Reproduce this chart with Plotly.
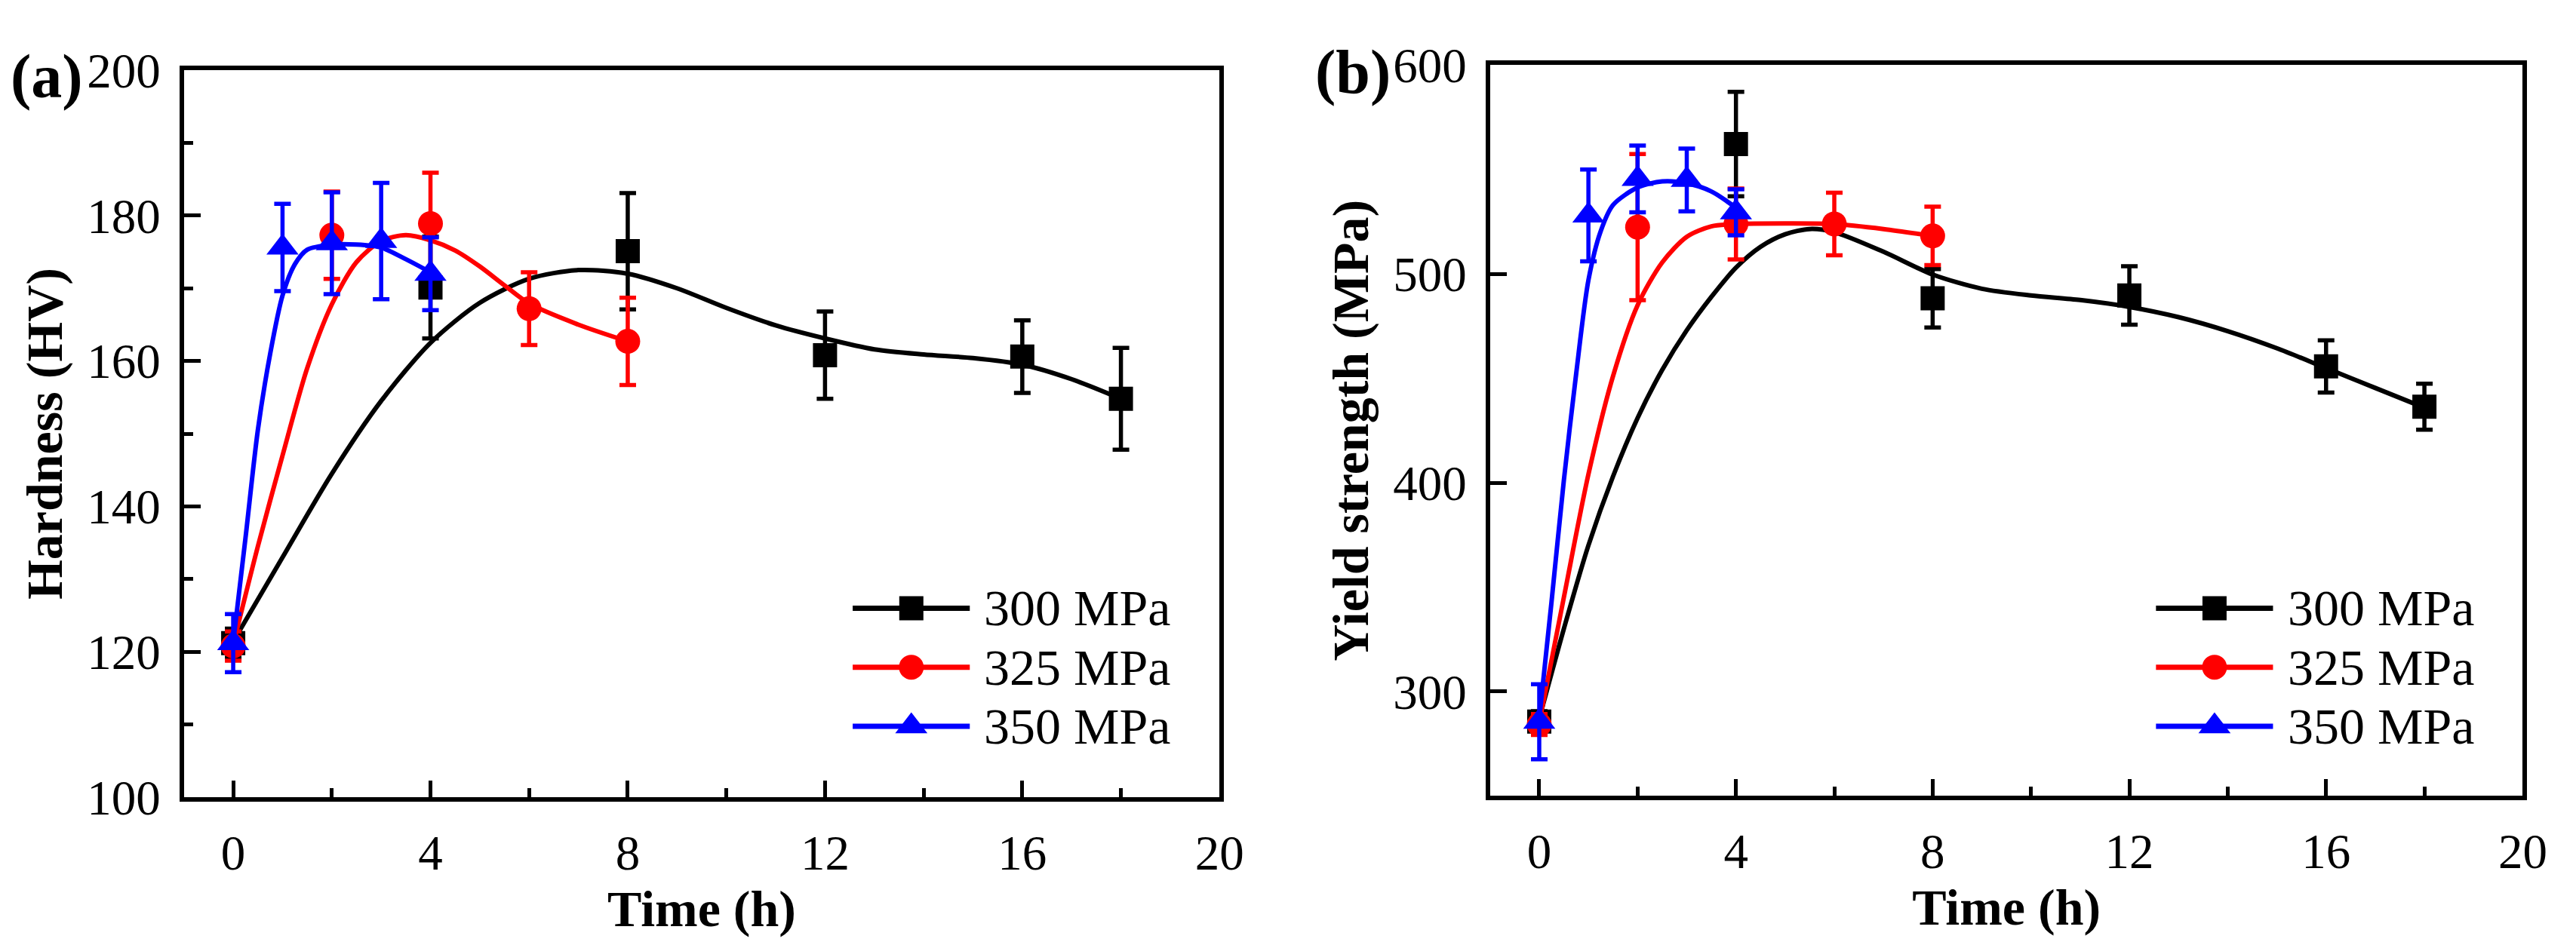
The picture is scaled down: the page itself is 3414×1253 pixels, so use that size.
import plotly.graph_objects as go

FONT = "Liberation Serif"
W, H = 3414, 1253

series_names = ["300 MPa", "325 MPa", "350 MPa"]
series_colors = ["#000000", "#FF0000", "#0000FF"]
series_symbols = ["square", "circle", "triangle-up"]
series_sizes = [32, 33, 37]

# ---- (a) hardness: measured points ----
time_300 = [0, 4, 8, 12, 16, 18]
hv_300 = [121.2, 170.1, 175.1, 160.8, 160.6, 154.8]
hv_300_err = [2, 7, 8, 6, 5, 7]

time_325 = [0, 2, 4, 6, 8]
hv_325 = [120.8, 177.3, 178.9, 167.2, 162.7]
hv_325_err = [2, 6, 7, 5, 6]

time_350 = [0, 1, 2, 3, 4]
hv_350 = [121.2, 175.6, 176.2, 176.5, 172.0]
hv_350_err = [4, 6, 7, 8, 5]

# ---- (a) hardness: smoothed curves ----
fit_t_300 = [0, 1, 2, 3, 4, 5, 6, 7, 8, 9, 10, 11, 12, 13, 14, 15, 16, 17, 18]
fit_hv_300 = [121.4, 133.0, 144.5, 154.5, 162.5, 168.0, 171.3, 172.5, 172.0, 170.0,
              167.3, 164.9, 163.1, 161.6, 160.9, 160.4, 159.5, 157.5, 154.8]

fit_t_325 = [0, 0.5, 1, 1.5, 2, 2.5, 3, 3.5, 4, 4.5, 5, 5.5, 6, 7, 8]
fit_hv_325 = [121.0, 134.5, 147.0, 159.0, 167.8, 173.6, 176.5, 177.3, 176.6, 175.2,
              173.0, 170.4, 167.9, 165.0, 162.7]

fit_t_350 = [0, 0.25, 0.5, 0.75, 1, 1.25, 1.5, 2, 2.5, 3, 3.5, 4]
fit_hv_350 = [121.3, 135.7, 150.5, 161.0, 169.0, 173.3, 175.3, 176.0, 176.0, 175.6,
              174.0, 172.2]

# ---- (b) yield strength: measured points ----
ys_300 = [285.6, 562.2, 488.3, 489.7, 455.7, 436.4]
ys_300_err = [5, 25, 14, 14, 12.5, 11]

ys_325 = [284.2, 522.4, 523.9, 523.9, 518.2]
ys_325_err = [5, 35, 17, 15, 14]

ys_350 = [285.5, 528.0, 545.5, 545.0, 529.5]
ys_350_err = [18, 22, 16, 15, 11]

# ---- (b) yield strength: smoothed curves ----
fit_tb_300 = [0, 0.5, 1, 1.5, 2, 2.5, 3, 3.5, 4, 4.5, 5, 5.5, 6, 7, 8, 9, 10, 11,
              12, 13, 14, 15, 16, 17, 18]
fit_ys_300 = [287, 330, 370, 403, 431, 454, 473, 489, 503, 513, 519, 521.5, 520,
              510.6, 499.7, 492.9, 489.7, 487.5, 484.2, 479.3, 472.6, 464.4, 454.9,
              445.4, 435.9]

fit_tb_325 = [0, 0.5, 1, 1.5, 2, 2.5, 3, 3.5, 4, 5, 6, 7, 8]
fit_ys_325 = [285, 345, 404, 451, 485, 505.5, 517.8, 522.8, 523.9, 524.2, 523.9,
              521.5, 518.2]

fit_tb_350 = [0, 0.25, 0.5, 0.75, 1, 1.25, 1.5, 2, 2.5, 3, 3.5, 4]
fit_ys_350 = [287, 343, 401, 452, 497, 520.5, 533, 541.4, 544.3, 543.4, 539.5,
              531.7]

legend_rows = [0, 1, 2]

panels = [
    # (xaxis, yaxis, points, fits)
    ("x", "y",
     [(time_300, hv_300, hv_300_err), (time_325, hv_325, hv_325_err), (time_350, hv_350, hv_350_err)],
     [(fit_t_300, fit_hv_300), (fit_t_325, fit_hv_325), (fit_t_350, fit_hv_350)]),
    ("x2", "y2",
     [(time_300, ys_300, ys_300_err), (time_325, ys_325, ys_325_err), (time_350, ys_350, ys_350_err)],
     [(fit_tb_300, fit_ys_300), (fit_tb_325, fit_ys_325), (fit_tb_350, fit_ys_350)]),
]

fig = go.Figure()

for xa, ya, points, fits in panels:
    for i in range(3):
        c = series_colors[i]
        fig.add_trace(go.Scatter(
            x=fits[i][0], y=fits[i][1], xaxis=xa, yaxis=ya, mode="lines",
            line=dict(color=c, width=6, shape="spline", smoothing=0.8),
            showlegend=False, hoverinfo="skip"))
        fig.add_trace(go.Scatter(
            x=points[i][0], y=points[i][1], xaxis=xa, yaxis=ya, mode="markers",
            name=series_names[i],
            marker=dict(symbol=series_symbols[i], size=series_sizes[i], color=c,
                        line=dict(width=0)),
            error_y=dict(type="data", array=points[i][2], color=c, thickness=5.5, width=11),
            showlegend=False))

# hand-drawn legends (long line with the marker in the middle), one per panel
for xa, ya in [("x3", "y3"), ("x4", "y4")]:
    for i in range(3):
        c = series_colors[i]
        fig.add_trace(go.Scatter(
            x=[0, 1], y=[legend_rows[i]] * 2, xaxis=xa, yaxis=ya, mode="lines",
            line=dict(color=c, width=7), cliponaxis=False,
            showlegend=False, hoverinfo="skip"))
        fig.add_trace(go.Scatter(
            x=[0.5], y=[legend_rows[i]], xaxis=xa, yaxis=ya, mode="markers",
            marker=dict(symbol=series_symbols[i], size=series_sizes[i], color=c),
            cliponaxis=False, showlegend=False, hoverinfo="skip"))


def axis_style(**kw):
    d = dict(showline=True, linecolor="black", linewidth=6, mirror=True,
             ticks="inside", ticklen=22, tickwidth=5, tickcolor="black",
             minor=dict(ticks="inside", ticklen=12, tickwidth=5, tickcolor="black"),
             showgrid=False, zeroline=False, ticklabelstandoff=12,
             tickfont=dict(family=FONT, size=65, color="black"),
             title_font=dict(family=FONT, size=68, color="black"))
    d.update(kw)
    return d


hidden = dict(visible=False, fixedrange=True)
leg_y_domain = [(H - 1017.5) / H, (H - 768.5) / H]

fig.update_layout(
    width=W, height=H,
    margin=dict(l=0, r=0, t=0, b=0),
    paper_bgcolor="white", plot_bgcolor="white",
    showlegend=False,
    xaxis=axis_style(domain=[238 / W, 1624 / W], range=[-1, 20], tick0=0, dtick=4,
                     minor_dtick=2, anchor="y",
                     title=dict(text="<b>Time (h)</b>", standoff=2)),
    yaxis=axis_style(domain=[(H - 1076) / H, (H - 53) / H], range=[100, 200], tick0=100,
                     dtick=20, minor_dtick=10, anchor="x",
                     title=dict(text="<b>Hardness (HV)</b>", standoff=12)),
    xaxis2=axis_style(domain=[1986 / W, 3368 / W], range=[-1, 20], tick0=0, dtick=4,
                      minor_dtick=2, anchor="y2",
                      title=dict(text="<b>Time (h)</b>", standoff=2)),
    yaxis2=axis_style(domain=[(H - 1074) / H, (H - 46) / H], range=[250, 600], tick0=300,
                      dtick=100, minor=dict(dtick=50, tick0=300), anchor="x2",
                      title=dict(text="<b>Yield strength (MPa)</b>", standoff=12)),
    xaxis3=dict(hidden, domain=[1133 / W, 1290 / W], range=[0, 1], anchor="y3"),
    yaxis3=dict(hidden, domain=leg_y_domain, range=[2.5, -0.5], anchor="x3"),
    xaxis4=dict(hidden, domain=[2877 / W, 3034 / W], range=[0, 1], anchor="y4"),
    yaxis4=dict(hidden, domain=leg_y_domain, range=[2.5, -0.5], anchor="x4"),
)

annotations = [
    dict(text="<b>(a)</b>", x=4 / W, y=1 - 62 / H),
    dict(text="<b>(b)</b>", x=1750 / W, y=1 - 56 / H),
]
for a in annotations:
    a.update(xref="paper", yref="paper", xanchor="left", yanchor="middle",
             showarrow=False, font=dict(family=FONT, size=82, color="black"))
    fig.add_annotation(**a)

for yref, x0 in [("y3", 1307), ("y4", 3051)]:
    for i in range(3):
        fig.add_annotation(text=series_names[i], xref="paper", x=x0 / W, yref=yref,
                           y=legend_rows[i], xanchor="left", yanchor="middle",
                           showarrow=False,
                           font=dict(family=FONT, size=68, color="black"))

fig.write_html("out.html")
